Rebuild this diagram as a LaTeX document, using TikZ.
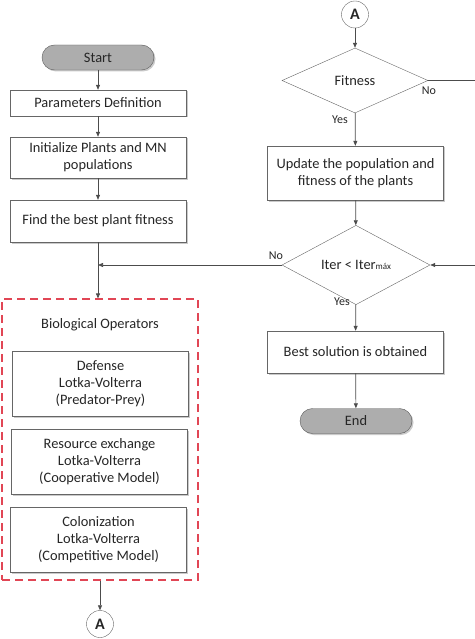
\documentclass[tikz,border=0pt]{standalone}
\usepackage{fontspec}
\setmainfont{Carlito}
\usetikzlibrary{shapes.geometric,shadows,arrows.meta,calc}
\begin{document}
\begin{tikzpicture}[x=1pt,y=-1pt,
  txt/.style={text=black!85, font=\fontsize{14.4}{16.8}\selectfont, align=center},
  box/.style={txt, draw=black!60, fill=white, inner sep=0pt,
    minimum width=176pt, drop shadow={shadow xshift=1.5pt, shadow yshift=-1.5pt, opacity=0.35, fill=black!60}},
  term/.style={txt, draw=black!65, fill=black!32, rounded corners=12.5pt, inner sep=0pt,
    minimum width=112pt, minimum height=25pt, drop shadow={shadow xshift=1.5pt, shadow yshift=-1.5pt, opacity=0.35, fill=black!60}},
  dec/.style={txt, diamond, draw=black!60, fill=white, inner sep=0pt},
  conn/.style={txt, circle, draw=black!60, fill=white, inner sep=0pt, minimum size=27pt, font=\fontsize{16}{18}\selectfont\bfseries},
  lbl/.style={text=black!85, font=\fontsize{12}{14}\selectfont},
  arr/.style={draw=black!70, line width=0.7pt, -{Triangle[length=5pt,width=4pt]}},
  ln/.style={draw=black!70, line width=0.7pt},
]
\useasboundingbox (0,0) rectangle (474,639);
% left column
\node[term] (start) at (98,57.5) {Start};
\node[box, minimum height=26pt] (param) at (98,103) {Parameters Definition};
\node[box, minimum height=41pt] (init) at (98,157.5) {Initialize Plants and MN\\populations};
\node[box, minimum height=42pt] (find) at (98,221) {Find the best plant fitness};
\node[draw={rgb,255:red,225;green,70;blue,85}, line width=1.1pt, dash pattern=on 8pt off 5pt, minimum width=196pt, minimum height=281pt, inner sep=0pt] (bio) at (100,439.5) {};
\node[txt] (biot) at (100,325) {Biological Operators};
\node[box, minimum height=65pt] (def) at (100.5,383.5) {Defense\\Lotka-Volterra\\(Predator-Prey)};
\node[box, minimum height=65pt] (res) at (99.5,461.5) {Resource exchange\\Lotka-Volterra\\(Cooperative Model)};
\node[box, minimum height=65pt] (col) at (98.5,539.5) {Colonization\\Lotka-Volterra\\(Competitive Model)};
\node[conn] (a1) at (100,624) {A};
% right column
\node[conn] (a2) at (355,14.5) {A};
\node[dec, minimum width=146pt, minimum height=65pt] (fit) at (355,80.5) {Fitness};
\node[box, minimum height=54pt] (upd) at (355.5,173) {Update the population and\\fitness of the plants};
\node[dec, minimum width=148pt, minimum height=64pt] (it) at (356,265) {Iter < Iter{\fontsize{9}{10}\selectfont máx}};
\node[box, minimum height=42pt] (best) at (355.5,352) {Best solution is obtained};
\node[term] (end) at (356,421) {End};
% labels
\node[lbl] at (429,91) {No};
\node[lbl] at (340,120) {Yes};
\node[lbl] at (276,256) {No};
\node[lbl] at (342,302) {Yes};
% coordinates
\coordinate (merge) at (98,265);
\coordinate (xr) at (490,0);
% connectors
\draw[arr] (start) -- (param);
\draw[arr] (param) -- (init);
\draw[arr] (init) -- (find);
\draw[arr] (find) -- (find.south |- bio.north);
\draw[arr] (it.west) -- (merge);
\draw[arr] (bio.south) -- (a1);
\draw[arr] (a2) -- (fit);
\draw[arr] (fit) -- (upd);
\draw[arr] (upd) -- (it);
\draw[arr] (it) -- (best);
\draw[arr] (best) -- (end);
\draw[ln] (fit.east) -- (fit.east -| xr) -- (it.east -| xr);
\draw[arr] (it.east -| xr) -- (it.east);
\end{tikzpicture}
\end{document}
